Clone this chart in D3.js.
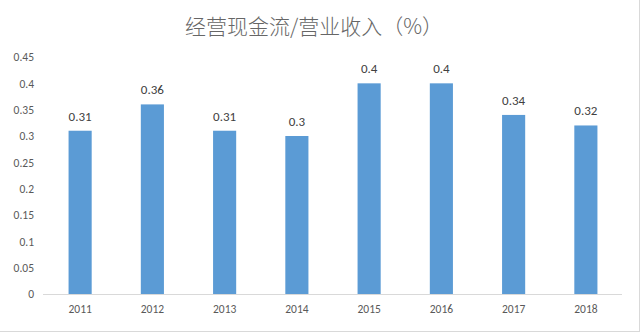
<!DOCTYPE html>
<html><head><meta charset="utf-8">
<script src="https://cdn.jsdelivr.net/npm/d3@7"></script>
<style>body{margin:0;background:#fff}svg{display:block}</style>
</head><body>
<script>
const title = "经营现金流/营业收入（%）";
const categories = ["2011","2012","2013","2014","2015","2016","2017","2018"];
const values = [0.31,0.36,0.31,0.3,0.4,0.4,0.34,0.32];
const yTicks = [0,0.05,0.1,0.15,0.2,0.25,0.3,0.35,0.4,0.45];

const W=640,H=332;
const svg=d3.select("body").append("svg").attr("width",W).attr("height",H);
svg.append("rect").attr("width",W).attr("height",H).attr("fill","#fff");
svg.append("line").attr("x1",639.5).attr("x2",639.5).attr("y1",0).attr("y2",H).attr("stroke","#d9d9d9");
svg.append("line").attr("x1",0).attr("x2",W).attr("y1",331.5).attr("y2",331.5).attr("stroke","#d9d9d9");

const x=d3.scaleBand().domain(categories).range([44,622]).paddingInner(0.68).paddingOuter(0.34);
const y=d3.scaleLinear().domain([0,0.45]).range([294,57]);
const font="Calibri, Carlito, 'Open Sans', 'Liberation Sans', 'DejaVu Sans', sans-serif";

svg.append("text").attr("x",314).attr("y",34).attr("text-anchor","middle")
  .attr("font-family","'Noto Sans CJK SC', sans-serif").attr("font-weight",300)
  .attr("font-size",21).attr("fill","#666").text(title);

const yAxis=d3.axisLeft(y).tickValues(yTicks).tickSize(0).tickPadding(0).tickFormat(d=>String(+d.toFixed(2)));
const ga=svg.append("g").attr("transform","translate(34,0)").call(yAxis);
ga.select(".domain").remove();
ga.selectAll("text").attr("font-family",font).attr("font-size",11.5).attr("fill","#595959");

const xAxis=d3.axisBottom(x).tickSize(0).tickPadding(11);
const gx=svg.append("g").attr("transform","translate(0,294)").call(xAxis);
gx.select(".domain").attr("stroke","#d9d9d9").attr("d","M43,0.5H622");
gx.selectAll("text").attr("font-family",font).attr("font-size",11.5).attr("fill","#595959");

svg.selectAll(".bar").data(values).enter().append("rect")
  .attr("x",(d,i)=>x(categories[i])).attr("width",x.bandwidth())
  .attr("y",d=>y(d)).attr("height",d=>294-y(d)).attr("fill","#5b9bd5");

svg.selectAll(".lbl").data(values).enter().append("text")
  .attr("x",(d,i)=>x(categories[i])+x.bandwidth()/2).attr("y",d=>y(d)-10)
  .attr("text-anchor","middle").attr("font-family",font).attr("font-size",13).attr("fill","#404040")
  .text(d=>String(d));
</script>
</body></html>
